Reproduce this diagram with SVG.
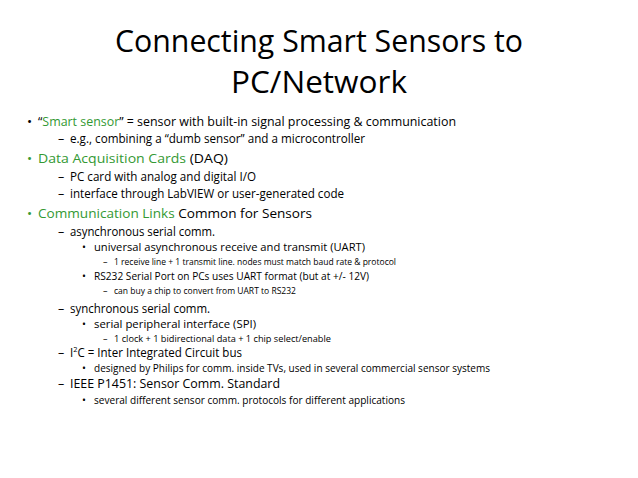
<svg xmlns="http://www.w3.org/2000/svg" width="638" height="478" viewBox="0 0 638 478">
<style>
text{font-family:"Open Sans","Noto Sans",sans-serif;fill:#000}
.t{font-size:31px}
.l1{font-size:13.5px}
.l2{font-size:12.5px}
.l3{font-size:10.5px}
.l4{font-size:9px}
.g{fill:#339933}
</style>
<rect width="638" height="478" fill="#fff"/>
<g id="title">
<text class="t" x="319" y="52" text-anchor="middle" textLength="408" lengthAdjust="spacingAndGlyphs">Connecting Smart Sensors to</text>
<text class="t" x="319" y="93" text-anchor="middle" textLength="176" lengthAdjust="spacingAndGlyphs">PC/Network</text>
</g>
<g class="l1">
<text x="27" y="126">•</text><text x="38" y="126" textLength="418" lengthAdjust="spacingAndGlyphs">“<tspan class="g">Smart sensor</tspan>” = sensor with built-in signal processing &amp; communication</text>
<text x="27" y="163" class="g">•</text><text x="38" y="163" textLength="190" lengthAdjust="spacingAndGlyphs"><tspan class="g">Data Acquisition Cards</tspan> (DAQ)</text>
<text x="27" y="218" class="g">•</text><text x="38" y="218" textLength="274" lengthAdjust="spacingAndGlyphs"><tspan class="g">Communication Links</tspan> Common for Sensors</text>
</g>
<g class="l2">
<text x="58" y="143">–</text><text x="70" y="143" textLength="295" lengthAdjust="spacingAndGlyphs">e.g., combining a “dumb sensor” and a microcontroller</text>
<text x="58" y="181">–</text><text x="70" y="181" textLength="186" lengthAdjust="spacingAndGlyphs">PC card with analog and digital I/O</text>
<text x="58" y="198">–</text><text x="70" y="198" textLength="274" lengthAdjust="spacingAndGlyphs">interface through LabVIEW or user-generated code</text>
<text x="58" y="236">–</text><text x="70" y="236" textLength="145" lengthAdjust="spacingAndGlyphs">asynchronous serial comm.</text>
<text x="58" y="313">–</text><text x="70" y="313" textLength="140" lengthAdjust="spacingAndGlyphs">synchronous serial comm.</text>
<text x="58" y="357">–</text><text x="70" y="357" textLength="172" lengthAdjust="spacingAndGlyphs">I<tspan font-size="8" dy="-5">2</tspan><tspan dy="5">C = Inter Integrated Circuit bus</tspan></text>
<text x="58" y="388">–</text><text x="70" y="388" textLength="210" lengthAdjust="spacingAndGlyphs">IEEE P1451: Sensor Comm. Standard</text>
</g>
<g class="l3">
<text x="82" y="251">•</text><text x="94" y="251" textLength="271" lengthAdjust="spacingAndGlyphs">universal asynchronous receive and transmit (UART)</text>
<text x="82" y="280">•</text><text x="94" y="280" textLength="275" lengthAdjust="spacingAndGlyphs">RS232 Serial Port on PCs uses UART format (but at +/- 12V)</text>
<text x="82" y="328">•</text><text x="94" y="328" textLength="162" lengthAdjust="spacingAndGlyphs">serial peripheral interface (SPI)</text>
<text x="82" y="372">•</text><text x="94" y="372" textLength="396" lengthAdjust="spacingAndGlyphs">designed by Philips for comm. inside TVs, used in several commercial sensor systems</text>
<text x="82" y="404">•</text><text x="94" y="404" textLength="311" lengthAdjust="spacingAndGlyphs">several different sensor comm. protocols for different applications</text>
</g>
<g class="l4">
<text x="103" y="265">–</text><text x="114" y="265" textLength="282" lengthAdjust="spacingAndGlyphs">1 receive line + 1 transmit line. nodes must match baud rate &amp; protocol</text>
<text x="103" y="294">–</text><text x="114" y="294" textLength="182" lengthAdjust="spacingAndGlyphs">can buy a chip to convert from UART to RS232</text>
<text x="103" y="342">–</text><text x="114" y="342" textLength="217" lengthAdjust="spacingAndGlyphs">1 clock + 1 bidirectional data + 1 chip select/enable</text>
</g>
</svg>
